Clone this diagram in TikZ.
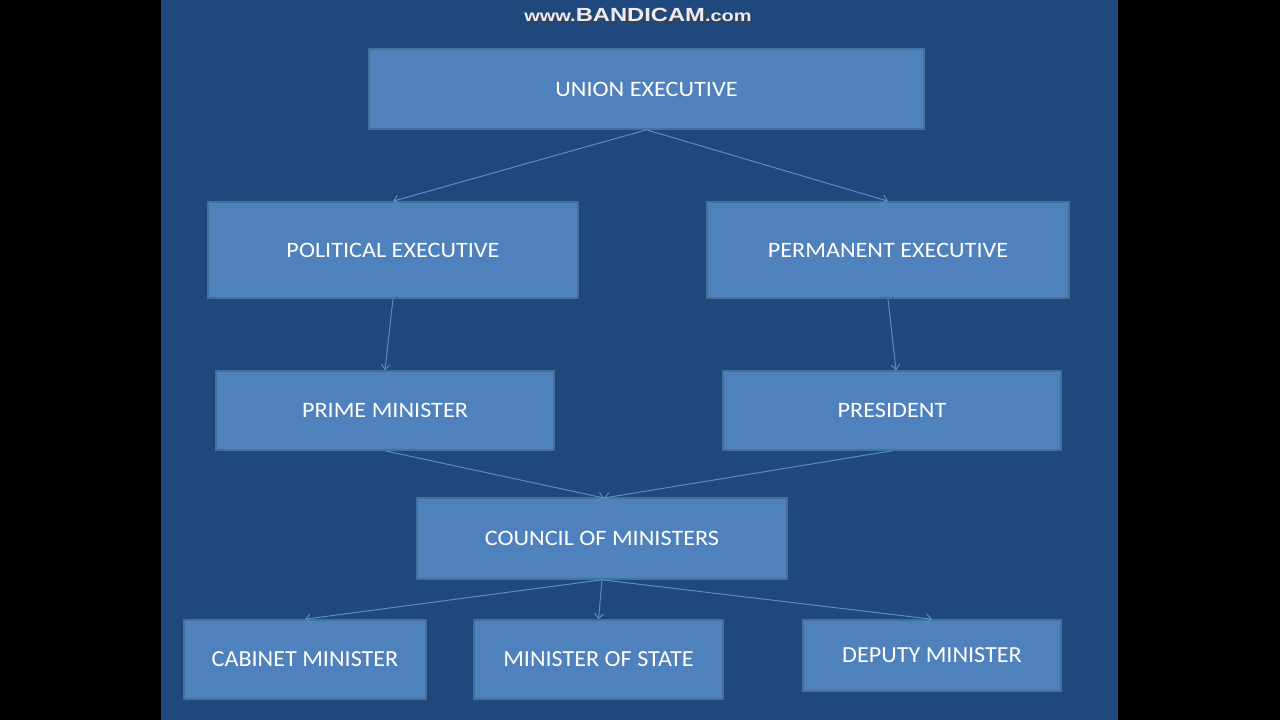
\documentclass[tikz,border=0pt]{standalone}
\usepackage{fontspec}
\setmainfont{Carlito}
\newfontfamily\wmfont{Liberation Sans}
\usetikzlibrary{arrows.meta}
\definecolor{slidebg}{HTML}{1F497D}
\definecolor{boxfill}{HTML}{4F81BD}
\definecolor{boxline}{HTML}{41719C}
\definecolor{linkcol}{HTML}{5B8AC6}
\newcommand{\toptxt}[1]{\scalebox{1.1}[1]{#1}}
\newcommand{\bottxt}[1]{\scalebox{1.05}[1]{\fontsize{23}{27}\selectfont #1}}
\newcommand{\wmtext}{\scalebox{1.25}[1]{\fontsize{16}{18}\selectfont www.\fontsize{19}{20}\selectfont BANDICAM\fontsize{16}{18}\selectfont .com}}
\tikzset{
  orgbox/.style={draw=boxline, line width=1.6pt, fill=boxfill, text=white,
    inner sep=0pt, font=\fontsize{22}{26}\selectfont},
  link/.style={draw=linkcol, line width=1pt, -{Straight Barb[length=5pt,width=9pt]}},
}
\begin{document}
\begin{tikzpicture}[x=1pt,y=-1pt]
\useasboundingbox (0,0) rectangle (1280,720);
\fill[black] (0,0) rectangle (1280,720);
\fill[slidebg] (161,0) rectangle (1118,720);
% watermark
\node[text=black!75, font=\wmfont\bfseries] (wmshadow) at (639.5,16.5) {\wmtext};
\node[text=white!92!blue, font=\wmfont\bfseries] (wm) at (638,15) {\wmtext};
% boxes
\node[orgbox, minimum width=555pt, minimum height=80pt] (union) at (646.5,89) {\toptxt{UNION EXECUTIVE}};
\node[orgbox, minimum width=370pt, minimum height=96pt] (political) at (393,250) {\toptxt{POLITICAL EXECUTIVE}};
\node[orgbox, minimum width=362pt, minimum height=96pt] (permanent) at (888,250) {\toptxt{PERMANENT EXECUTIVE}};
\node[orgbox, minimum width=338pt, minimum height=79pt] (prime) at (385,410.5) {\toptxt{PRIME MINISTER}};
\node[orgbox, minimum width=338pt, minimum height=79pt] (president) at (892,410.5) {\toptxt{PRESIDENT}};
\node[orgbox, minimum width=370pt, minimum height=81pt] (council) at (602,538.5) {\toptxt{COUNCIL OF MINISTERS}};
\node[orgbox, minimum width=242pt, minimum height=79pt] (cabinet) at (305,659.5) {\bottxt{CABINET MINISTER}};
\node[orgbox, minimum width=249pt, minimum height=79pt] (mos) at (598.5,659.5) {\bottxt{MINISTER OF STATE}};
\node[orgbox, minimum width=258pt, minimum height=71pt] (deputy) at (932,655.5) {\bottxt{DEPUTY MINISTER}};
% connectors
\coordinate (ctop) at (604,498);
\draw[link] (union.south) -- (political.north);
\draw[link] (union.south) -- (permanent.north);
\draw[link] (political.south) -- (prime.north);
\draw[link] (permanent.south) -- ([xshift=4pt]president.north);
\draw[link] (prime.south) -- (ctop);
\draw[link] (president.south) -- (ctop);
\draw[link] (council.south) -- (cabinet.north);
\draw[link] (council.south) -- (mos.north);
\draw[link] (council.south) -- (deputy.north);
\end{tikzpicture}
\end{document}
